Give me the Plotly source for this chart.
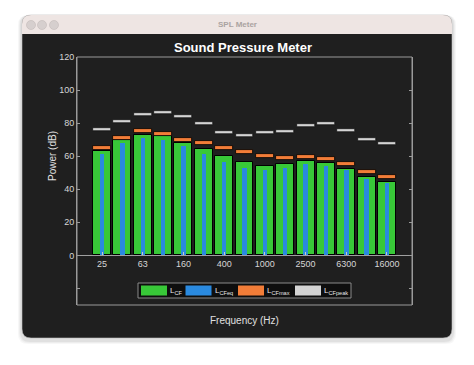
import plotly.graph_objects as go

freqs = ["25", "40", "63", "100", "160", "250", "400", "630", "1000",
         "1600", "2500", "4000", "6300", "10000", "16000"]
lcf = [63, 69.7, 73, 72, 67.9, 64.2, 60, 56.6, 54.1, 55, 57, 55.8, 52.1, 47.5, 44.4]
lcfeq = [61.6, 67.7, 71.3, 69.7, 66, 61.2, 56.6, 53.1, 51.5, 52.7, 55.2, 54.3, 51.5, 46.5, 43.6]
lcfmax = [65, 71, 75, 73.5, 69.7, 67.9, 65.2, 62.8, 60, 58.8, 59.4, 58.2, 55.2, 50.5, 47.5]
lcfpeak = [76, 81, 85, 86.3, 83.8, 79.6, 74.1, 72.5, 74.3, 75.2, 78.8, 79.6, 75.6, 69.9, 67.5]
tick_labels = freqs[::2]
yticks = [-20, 0, 20, 40, 60, 80, 100, 120]
ytext = ["", "0", "20", "40", "60", "80", "100", "120"]
legend_names = ["L<sub>CF</sub>", "L<sub>CFeq</sub>", "L<sub>CFmax</sub>", "L<sub>CFpeak</sub>"]

W, H = 474, 365
L, R, T, B = 77, 412, 57, 305
YMIN, YMAX = -30, 120


def X(px):
    return (px - L) / (R - L)


def Y(py):
    return (B - py) / (B - T)


def rrect(x0, y0, x1, y1, r, top_only=False):
    rb = 0 if top_only else r
    p = (f"M {X(x0 + r)},{Y(y0)} L {X(x1 - r)},{Y(y0)} "
         f"Q {X(x1)},{Y(y0)} {X(x1)},{Y(y0 + r)} "
         f"L {X(x1)},{Y(y1 - rb)} ")
    if rb:
        p += f"Q {X(x1)},{Y(y1)} {X(x1 - rb)},{Y(y1)} L {X(x0 + rb)},{Y(y1)} Q {X(x0)},{Y(y1)} {X(x0)},{Y(y1 - rb)} "
    else:
        p += f"L {X(x0)},{Y(y1)} "
    p += f"L {X(x0)},{Y(y0 + r)} Q {X(x0)},{Y(y0)} {X(x0 + r)},{Y(y0)} Z"
    return p


FONT = "Liberation Sans, Arial, Helvetica, sans-serif"
GREEN, BLUE, ORANGE, GRAY = "#38c838", "#2a8ae0", "#f27d38", "#d4d4d4"
COLORS = [GREEN, BLUE, ORANGE, GRAY]
MAX_H, PEAK_H = 2.4, 1.9

fig = go.Figure()
fig.add_trace(go.Bar(x=freqs, y=lcf, width=0.88, marker=dict(color=GREEN, line=dict(color="#000", width=1)),
                     showlegend=False))
fig.add_trace(go.Bar(x=freqs, y=lcfeq, width=0.22, marker=dict(color=BLUE, line=dict(width=0)),
                     showlegend=False))
fig.add_trace(go.Bar(x=freqs, y=[MAX_H] * len(lcfmax), base=[v - MAX_H / 2 for v in lcfmax], width=0.88,
                     marker=dict(color=ORANGE, line=dict(color="#000", width=0.8)), showlegend=False))
fig.add_trace(go.Bar(x=freqs, y=[PEAK_H] * len(lcfpeak), base=[v - PEAK_H / 2 for v in lcfpeak], width=0.88,
                     marker=dict(color=GRAY, line=dict(color="#000", width=0.6)), showlegend=False))

shapes = []
for i, a in enumerate([0.03, 0.04, 0.05]):
    d = 4 - i
    shapes.append(dict(type="path", path=rrect(22 - d, 15, 452 + d, 338 + d + 2, 10), xref="paper", yref="paper",
                       fillcolor=f"rgba(0,0,0,{a})", line=dict(width=0), layer="below"))
shapes.append(dict(type="path", path=rrect(22, 15, 452, 338, 9), xref="paper", yref="paper",
                   fillcolor="#1f1f1f", line=dict(color="#bdbdbd", width=0.6), layer="below"))
shapes.append(dict(type="path", path=rrect(22, 15, 452, 34, 9, top_only=True), xref="paper", yref="paper",
                   fillcolor="#eee5e3", line=dict(width=0), layer="below"))
for cx in [31, 42, 54]:
    shapes.append(dict(type="circle", xref="paper", yref="paper", x0=X(cx - 4.5), x1=X(cx + 4.5),
                       y0=Y(25 + 4.5), y1=Y(25 - 4.5), fillcolor="#d6cfce",
                       line=dict(color="#c2bab8", width=0.6), layer="below"))
shapes.append(dict(type="rect", xref="x domain", yref="y domain", x0=0, x1=1, y0=0, y1=1,
                   line=dict(color="#9a9a9a", width=1), fillcolor="rgba(0,0,0,0)", layer="above"))

annotations = [
    dict(text="SPL Meter", x=X(237), y=Y(25), xanchor="center", yanchor="middle",
         font=dict(family=FONT, size=8, color="#aaa3a1", weight="bold")),
    dict(text="Sound Pressure Meter", x=X(243), y=Y(47), xanchor="center", yanchor="middle",
         font=dict(family=FONT, size=13, color="#ffffff", weight="bold")),
    dict(text="Power (dB)", x=X(52), y=Y(156), xanchor="center", yanchor="middle", textangle=-90,
         font=dict(family=FONT, size=10, color="#e0e0e0")),
    dict(text="Frequency (Hz)", x=X(244), y=Y(320), xanchor="center", yanchor="middle",
         font=dict(family=FONT, size=10, color="#e0e0e0")),
]

shapes.append(dict(type="rect", xref="paper", yref="paper", x0=X(138), x1=X(351), y0=Y(298), y1=Y(283),
                   fillcolor="#0e0e0e", line=dict(color="#8a8a8a", width=1), layer="above"))
sw_x = [141, 185.5, 238, 295]
for sx, col, name in zip(sw_x, COLORS, legend_names):
    shapes.append(dict(type="rect", xref="paper", yref="paper", x0=X(sx), x1=X(sx + 26),
                       y0=Y(295.5), y1=Y(285.5), fillcolor=col, line=dict(width=0), layer="above"))
    annotations.append(dict(text=name, x=X(sx + 27), y=Y(290.5), xanchor="left", yanchor="middle",
                            font=dict(family=FONT, size=8, color="#e6e6e6")))

for a in annotations:
    a.update(xref="paper", yref="paper", showarrow=False)

fig.update_layout(
    width=W, height=H, margin=dict(l=L, r=W - R, t=T, b=H - B),
    paper_bgcolor="#ffffff", plot_bgcolor="#121212",
    barmode="overlay", bargap=0, showlegend=False,
    font=dict(family=FONT, size=9, color="#d6d6d6"),
    shapes=shapes, annotations=annotations,
    xaxis=dict(type="category", categoryorder="array", categoryarray=freqs,
               range=[-1.23, len(freqs) - 1 + 1.23],
               tickvals=tick_labels, ticktext=tick_labels,
               anchor="free", position=(0 - YMIN) / (YMAX - YMIN),
               showline=True, linecolor="#a0a0a0", linewidth=1,
               ticks="inside", ticklen=3, tickcolor="#c8c8c8", showgrid=False, zeroline=False,
               tickfont=dict(size=9, color="#d6d6d6")),
    yaxis=dict(range=[YMIN, YMAX], tickvals=yticks, ticktext=ytext,
               showline=True, mirror="ticks", linecolor="#9a9a9a", linewidth=1,
               ticks="inside", ticklen=3, tickcolor="#9a9a9a", showgrid=False, zeroline=False,
               tickfont=dict(size=9, color="#d6d6d6")),
)

fig.write_html("out.html")
